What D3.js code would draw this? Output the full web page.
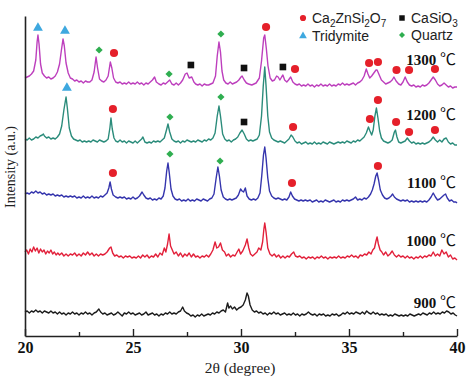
<!DOCTYPE html>
<html>
<head>
<meta charset="utf-8">
<script src="https://cdn.jsdelivr.net/npm/d3@7"></script>
<style>
  body { margin: 0; background: #fff; }
  svg { display: block; }
</style>
</head>
<body>
<svg id="xrd" width="474" height="380"></svg>
<script>
// series: [2theta, intensity (stacked, a.u.)]
var s900 = [[20.0,24],[20.1,25],[20.2,23],[20.3,25],[20.4,24],[20.5,26],[20.6,24],[20.7,25],[20.8,23],[20.9,25],[21.0,24],[21.1,23],[21.2,25],[21.3,23],[21.4,24],[21.5,22],[21.6,24],[21.7,22],[21.8,23],[21.9,21],[22.0,23],[22.1,22],[22.2,24],[22.3,22],[22.4,23],[22.5,21],[22.6,23],[22.7,22],[22.8,24],[22.9,22],[23.0,23],[23.1,21],[23.2,23],[23.3,24],[23.42,27],[23.5,24],[23.6,22],[23.7,23],[23.8,21],[23.9,22],[24.0,23],[24.1,21],[24.2,22],[24.3,24],[24.4,22],[24.5,20],[24.6,23],[24.7,22],[24.8,24],[24.9,22],[25.0,23],[25.1,21],[25.2,22],[25.3,23],[25.4,21],[25.5,22],[25.6,24],[25.7,21],[25.8,22],[25.9,23],[26.0,21],[26.1,22],[26.2,20],[26.3,22],[26.4,21],[26.5,23],[26.6,22],[26.7,24],[26.8,22],[26.9,23],[27.0,22],[27.1,24],[27.2,25],[27.3,29],[27.38,25],[27.48,23],[27.58,22],[27.68,20],[27.78,21],[27.88,19],[27.98,21],[28.08,20],[28.18,22],[28.28,20],[28.38,21],[28.48,22],[28.58,21],[28.68,23],[28.78,22],[28.88,24],[28.98,23],[29.08,25],[29.18,26],[29.28,24],[29.38,33],[29.44,28],[29.52,30],[29.6,27],[29.7,29],[29.8,26],[29.9,28],[30.0,29],[30.1,31],[30.2,36],[30.28,43],[30.34,40],[30.42,31],[30.52,26],[30.62,24],[30.72,25],[30.82,23],[30.92,24],[31.02,22],[31.12,23],[31.22,21],[31.32,23],[31.42,22],[31.52,24],[31.62,22],[31.72,23],[31.82,21],[31.92,22],[32.02,23],[32.12,21],[32.22,22],[32.32,21],[32.42,23],[32.52,21],[32.62,22],[32.72,20],[32.82,22],[32.92,21],[33.02,22],[33.12,24],[33.22,22],[33.32,21],[33.42,22],[33.52,20],[33.62,22],[33.72,21],[33.82,22],[33.92,20],[34.02,21],[34.12,20],[34.22,22],[34.32,21],[34.42,22],[34.52,20],[34.62,21],[34.72,23],[34.82,22],[34.92,24],[35.02,22],[35.12,23],[35.22,22],[35.32,24],[35.42,23],[35.52,22],[35.62,24],[35.72,22],[35.82,25],[35.92,23],[36.02,22],[36.12,24],[36.22,22],[36.32,23],[36.42,21],[36.52,22],[36.62,21],[36.72,22],[36.82,20],[36.92,21],[37.02,20],[37.12,22],[37.22,21],[37.32,20],[37.42,21],[37.52,20],[37.62,21],[37.72,20],[37.82,22],[37.92,21],[38.02,20],[38.12,21],[38.22,22],[38.32,21],[38.42,23],[38.52,22],[38.62,21],[38.72,23],[38.82,22],[38.92,24],[39.02,22],[39.12,23],[39.22,22],[39.32,24],[39.42,23],[39.52,25],[39.62,24],[39.72,22],[39.82,23],[39.92,21],[40.0,20]];

var s1000 = [[20.0,84],[20.08,86],[20.16,82],[20.24,87],[20.32,84],[20.4,89],[20.48,85],[20.56,88],[20.64,83],[20.72,87],[20.8,84],[20.88,86],[20.96,82],[21.04,85],[21.12,83],[21.2,86],[21.28,82],[21.36,84],[21.44,81],[21.52,83],[21.6,81],[21.7,83],[21.8,80],[21.9,82],[22.0,80],[22.1,82],[22.2,81],[22.3,83],[22.4,80],[22.5,82],[22.6,80],[22.7,83],[22.8,81],[22.9,84],[23.0,81],[23.1,83],[23.2,80],[23.3,82],[23.4,80],[23.5,82],[23.6,81],[23.7,82],[23.8,84],[23.92,88],[23.98,89],[24.06,83],[24.15,80],[24.25,81],[24.35,79],[24.45,80],[24.55,78],[24.65,80],[24.75,79],[24.85,80],[24.95,78],[25.05,79],[25.15,78],[25.25,80],[25.35,78],[25.45,81],[25.55,79],[25.65,81],[25.75,78],[25.85,80],[25.95,79],[26.05,82],[26.15,79],[26.25,83],[26.35,81],[26.45,88],[26.52,84],[26.6,92],[26.67,102],[26.74,90],[26.82,86],[26.9,82],[27.0,84],[27.1,80],[27.2,83],[27.3,79],[27.4,82],[27.5,80],[27.6,83],[27.7,79],[27.8,82],[27.9,79],[28.0,80],[28.1,78],[28.2,80],[28.3,79],[28.4,81],[28.5,79],[28.6,82],[28.7,86],[28.8,94],[28.88,88],[28.96,89],[29.05,93],[29.14,86],[29.24,84],[29.32,80],[29.42,82],[29.52,79],[29.62,81],[29.72,80],[29.82,84],[29.9,87],[29.98,82],[30.08,85],[30.2,91],[30.28,97],[30.36,88],[30.44,82],[30.54,80],[30.64,82],[30.74,84],[30.82,88],[30.92,86],[31.0,94],[31.06,107],[31.1,113],[31.16,104],[31.24,88],[31.34,82],[31.44,80],[31.54,82],[31.64,79],[31.74,81],[31.84,78],[31.94,80],[32.04,78],[32.14,80],[32.24,79],[32.34,82],[32.44,84],[32.52,80],[32.62,79],[32.72,80],[32.82,78],[32.92,79],[33.02,77],[33.12,79],[33.22,78],[33.32,79],[33.42,77],[33.52,79],[33.62,78],[33.72,80],[33.82,78],[33.92,79],[34.02,77],[34.12,79],[34.22,78],[34.32,79],[34.42,78],[34.52,80],[34.62,78],[34.72,79],[34.82,78],[34.92,80],[35.02,79],[35.12,81],[35.22,79],[35.32,80],[35.42,78],[35.52,81],[35.62,80],[35.72,82],[35.82,81],[35.92,84],[36.02,82],[36.1,86],[36.18,88],[36.25,95],[36.3,99],[36.36,92],[36.44,86],[36.52,84],[36.6,81],[36.7,84],[36.8,80],[36.9,82],[37.0,85],[37.1,81],[37.2,79],[37.3,81],[37.4,79],[37.5,80],[37.6,78],[37.7,80],[37.8,78],[37.9,79],[38.0,77],[38.1,79],[38.2,78],[38.3,80],[38.4,78],[38.5,80],[38.6,79],[38.7,81],[38.8,80],[38.9,84],[39.0,80],[39.1,82],[39.2,80],[39.3,86],[39.4,82],[39.5,84],[39.6,79],[39.7,81],[39.8,77],[39.9,78],[40.0,76]];

var s1100 = [[20.0,142],[20.1,143],[20.2,142],[20.3,144],[20.4,143],[20.5,145],[20.6,143],[20.7,144],[20.8,142],[20.9,143],[21.0,141],[21.1,142],[21.2,141],[21.3,142],[21.4,140],[21.5,141],[21.6,140],[21.7,141],[21.8,139],[21.9,140],[22.0,139],[22.1,140],[22.2,139],[22.3,140],[22.4,138],[22.5,139],[22.6,138],[22.7,140],[22.8,138],[22.9,139],[23.0,138],[23.1,140],[23.2,138],[23.3,139],[23.4,138],[23.5,140],[23.6,139],[23.7,141],[23.8,143],[23.88,148],[23.94,154],[24.0,147],[24.08,141],[24.2,139],[24.3,138],[24.4,139],[24.5,138],[24.6,139],[24.7,137],[24.8,138],[24.9,137],[25.0,139],[25.1,137],[25.2,138],[25.3,140],[25.42,144],[25.5,141],[25.6,138],[25.7,137],[25.8,138],[25.9,136],[26.0,137],[26.1,136],[26.2,138],[26.3,137],[26.4,140],[26.48,148],[26.56,165],[26.62,173],[26.68,163],[26.76,147],[26.85,140],[26.95,137],[27.05,136],[27.15,137],[27.25,135],[27.35,136],[27.45,135],[27.55,137],[27.65,135],[27.75,136],[27.85,135],[27.95,137],[28.05,136],[28.15,135],[28.25,137],[28.35,136],[28.45,135],[28.55,137],[28.65,138],[28.75,142],[28.85,158],[28.93,169],[29.0,160],[29.08,146],[29.18,139],[29.28,137],[29.38,136],[29.48,137],[29.58,136],[29.68,137],[29.78,138],[29.88,141],[29.98,147],[30.05,145],[30.12,144],[30.2,148],[30.28,140],[30.38,137],[30.48,136],[30.58,137],[30.68,136],[30.78,138],[30.88,143],[30.96,160],[31.04,181],[31.1,189],[31.16,178],[31.24,158],[31.32,145],[31.42,140],[31.52,138],[31.62,137],[31.72,138],[31.82,137],[31.92,136],[32.02,137],[32.12,136],[32.22,139],[32.3,144],[32.38,140],[32.48,137],[32.58,136],[32.68,135],[32.78,136],[32.88,135],[32.98,136],[33.08,135],[33.2,136],[33.3,134],[33.4,135],[33.5,136],[33.6,134],[33.7,135],[33.8,134],[33.9,136],[34.0,135],[34.1,134],[34.2,135],[34.3,136],[34.4,134],[34.5,135],[34.6,134],[34.7,136],[34.8,135],[34.9,136],[35.0,135],[35.1,136],[35.2,137],[35.3,139],[35.4,136],[35.5,137],[35.6,136],[35.7,138],[35.8,137],[35.9,139],[36.0,142],[36.08,146],[36.16,152],[36.24,160],[36.3,163],[36.37,156],[36.45,146],[36.55,141],[36.65,138],[36.75,137],[36.85,138],[36.95,140],[37.02,142],[37.1,139],[37.2,137],[37.3,136],[37.4,135],[37.5,136],[37.6,135],[37.7,136],[37.8,134],[37.9,135],[38.0,134],[38.1,135],[38.2,134],[38.3,135],[38.4,134],[38.5,135],[38.6,134],[38.7,136],[38.8,139],[38.9,143],[39.0,139],[39.1,136],[39.2,137],[39.3,139],[39.4,141],[39.47,142],[39.55,138],[39.65,135],[39.75,136],[39.85,134],[39.95,134],[40.0,133]];

var s1200 = [[20.0,197],[20.1,196],[20.2,198],[20.3,196],[20.4,197],[20.5,199],[20.6,198],[20.7,200],[20.8,201],[20.85,202],[20.9,200],[21.0,198],[21.1,199],[21.2,197],[21.3,198],[21.4,197],[21.5,199],[21.6,202],[21.7,210],[21.8,226],[21.9,239],[21.96,228],[22.05,208],[22.15,200],[22.25,197],[22.35,196],[22.45,195],[22.55,196],[22.65,194],[22.75,195],[22.85,194],[22.95,195],[23.05,194],[23.15,196],[23.25,195],[23.35,194],[23.45,196],[23.55,195],[23.65,194],[23.75,195],[23.85,197],[23.93,208],[23.98,218],[24.04,207],[24.12,198],[24.2,195],[24.3,194],[24.4,196],[24.5,194],[24.6,195],[24.7,193],[24.8,195],[24.9,194],[25.0,193],[25.1,195],[25.2,193],[25.3,195],[25.4,197],[25.46,199],[25.55,194],[25.65,193],[25.75,194],[25.85,193],[25.95,195],[26.05,194],[26.15,195],[26.25,194],[26.35,196],[26.45,198],[26.55,206],[26.62,212],[26.7,204],[26.8,197],[26.9,195],[27.0,194],[27.1,195],[27.2,193],[27.3,195],[27.4,194],[27.5,196],[27.6,195],[27.7,194],[27.8,195],[27.9,194],[28.0,196],[28.1,195],[28.2,194],[28.3,196],[28.4,195],[28.5,197],[28.6,196],[28.7,198],[28.8,203],[28.9,220],[28.98,230],[29.05,220],[29.15,202],[29.25,197],[29.35,195],[29.45,196],[29.55,194],[29.65,196],[29.75,197],[29.85,199],[29.95,203],[30.05,206],[30.15,202],[30.25,197],[30.35,195],[30.45,196],[30.55,195],[30.65,196],[30.75,197],[30.85,201],[30.95,220],[31.03,250],[31.1,269],[31.16,250],[31.24,220],[31.32,204],[31.42,198],[31.52,196],[31.62,195],[31.72,194],[31.82,195],[31.92,194],[32.02,193],[32.12,195],[32.22,197],[32.32,201],[32.4,199],[32.5,195],[32.6,193],[32.7,194],[32.8,192],[32.9,193],[33.0,194],[33.1,192],[33.2,193],[33.3,192],[33.4,194],[33.5,192],[33.6,193],[33.7,192],[33.8,194],[33.9,193],[34.0,192],[34.1,194],[34.2,193],[34.3,192],[34.4,193],[34.5,194],[34.6,193],[34.7,194],[34.8,193],[34.9,195],[35.0,194],[35.1,193],[35.2,195],[35.3,194],[35.4,196],[35.5,195],[35.6,197],[35.7,199],[35.8,203],[35.9,209],[35.97,205],[36.05,201],[36.12,206],[36.2,220],[36.27,228],[36.34,218],[36.42,205],[36.5,198],[36.6,195],[36.7,194],[36.8,193],[36.9,194],[37.0,196],[37.1,204],[37.15,206],[37.22,199],[37.3,194],[37.4,193],[37.5,194],[37.6,195],[37.7,198],[37.8,195],[37.9,193],[38.0,194],[38.1,192],[38.2,193],[38.3,192],[38.4,193],[38.5,192],[38.6,193],[38.7,194],[38.8,196],[38.9,199],[39.0,196],[39.1,194],[39.2,196],[39.3,194],[39.4,197],[39.5,198],[39.6,194],[39.7,192],[39.8,193],[39.9,191],[40.0,191]];

var s1300 = [[20.0,258],[20.1,259],[20.2,260],[20.3,262],[20.4,265],[20.5,276],[20.56,294],[20.6,301],[20.65,292],[20.72,272],[20.8,263],[20.9,260],[21.0,258],[21.1,259],[21.2,257],[21.3,258],[21.4,260],[21.5,264],[21.6,272],[21.68,285],[21.76,297],[21.82,290],[21.9,273],[22.0,263],[22.1,258],[22.2,257],[22.3,255],[22.4,256],[22.5,254],[22.6,255],[22.7,253],[22.8,255],[22.9,254],[23.0,254],[23.1,256],[23.2,264],[23.29,279],[23.36,268],[23.45,257],[23.55,255],[23.65,254],[23.75,256],[23.85,260],[23.95,274],[24.02,268],[24.1,258],[24.2,254],[24.3,253],[24.4,254],[24.5,252],[24.6,253],[24.7,252],[24.8,254],[24.9,252],[25.0,253],[25.1,252],[25.2,254],[25.3,252],[25.4,253],[25.5,251],[25.6,253],[25.7,252],[25.8,254],[25.9,256],[26.0,259],[26.08,254],[26.2,252],[26.3,251],[26.4,253],[26.5,252],[26.6,254],[26.7,256],[26.8,252],[26.9,251],[27.0,253],[27.1,251],[27.2,253],[27.3,256],[27.42,262],[27.5,263],[27.6,258],[27.72,259],[27.82,254],[27.9,252],[28.0,251],[28.1,252],[28.2,250],[28.3,252],[28.4,251],[28.5,251],[28.6,252],[28.7,253],[28.82,260],[28.9,280],[28.98,294],[29.05,284],[29.12,265],[29.2,256],[29.3,253],[29.4,252],[29.5,254],[29.6,252],[29.7,253],[29.8,254],[29.9,256],[30.0,259],[30.05,260],[30.15,256],[30.25,253],[30.35,252],[30.5,251],[30.6,252],[30.7,253],[30.85,258],[30.95,275],[31.05,298],[31.1,301],[31.17,288],[31.25,270],[31.35,258],[31.45,255],[31.55,256],[31.65,260],[31.72,259],[31.8,256],[31.88,259],[31.94,261],[32.02,256],[32.12,254],[32.2,256],[32.3,259],[32.4,254],[32.5,252],[32.6,251],[32.7,252],[32.8,250],[32.9,251],[33.0,250],[33.1,252],[33.2,250],[33.3,251],[33.4,249],[33.5,251],[33.6,250],[33.7,252],[33.8,250],[33.9,251],[34.0,250],[34.1,252],[34.2,250],[34.3,251],[34.4,250],[34.5,252],[34.6,251],[34.7,253],[34.8,251],[34.9,252],[35.0,251],[35.1,252],[35.2,253],[35.3,251],[35.4,253],[35.5,254],[35.6,256],[35.7,260],[35.8,267],[35.88,262],[35.96,258],[36.05,260],[36.15,263],[36.25,266],[36.3,266],[36.4,261],[36.5,256],[36.6,254],[36.7,252],[36.8,253],[36.9,254],[37.0,256],[37.08,259],[37.18,255],[37.3,252],[37.4,251],[37.5,254],[37.6,259],[37.7,254],[37.8,251],[37.9,250],[38.0,251],[38.1,249],[38.2,250],[38.3,249],[38.4,251],[38.5,250],[38.6,251],[38.7,253],[38.8,256],[38.9,259],[39.0,256],[39.1,252],[39.2,250],[39.3,251],[39.4,253],[39.5,251],[39.6,249],[39.7,250],[39.8,248],[39.9,249],[40.0,249]];

var seriesData = [s900, s1000, s1100, s1200, s1300];
var seriesTemps = ["900", "1000", "1100", "1200", "1300"];
var seriesColors = ["#1c1c1c", "#e2203a", "#3535ad", "#2b8c7b", "#bd3fbd"];
var labelLevels = [28, 90, 148, 216, 271];   // intensity at which the temperature text sits

// phase markers: [2theta, intensity, phase]
// c = Ca2ZnSi2O7, s = CaSiO3, t = Tridymite, q = Quartz
var phaseMarks = [
  [20.6,308,"t"],[21.85,305,"t"],[23.43,286,"q"],[24.12,283,"c"],[26.67,262,"q"],[27.68,271,"s"],
  [29.07,302,"q"],[30.14,268,"s"],[31.16,309,"c"],[31.94,269,"s"],[32.5,267,"c"],[35.93,273,"c"],
  [36.34,274,"c"],[37.2,266,"c"],[37.78,266,"c"],[38.98,267,"c"],
  [21.94,248,"t"],[24.07,227,"c"],[26.71,219,"q"],[29.07,239,"q"],[30.14,214,"s"],[32.41,209,"c"],
  [35.97,217,"c"],[36.34,236,"c"],[37.18,214,"c"],[37.78,204,"c"],[38.98,206,"c"],
  [24.07,163,"c"],[26.71,182,"q"],[29.03,175,"q"],[32.36,153,"c"],[36.34,170,"c"]
];

var xTicks = [20, 25, 30, 35, 40];
var xMinor = [22.5, 27.5, 32.5, 37.5];

var svg = d3.select("#xrd"),
    padL = 25, padR = 457, padT = 16, padB = 336;

var x = d3.scaleLinear().domain([20, 40]).range([padL, padR]);
var y = d3.scaleLinear().domain([0, 320]).range([padB, padT]);

var line = d3.line()
    .x(function(d) { return x(d[0]); })
    .y(function(d) { return y(d[1]); });

var g = svg.append("g");

seriesData.forEach(function(s, i) {
  g.append("path")
    .datum(s)
    .attr("d", line)
    .attr("fill", "none")
    .attr("stroke", seriesColors[i])
    .attr("stroke-width", 1.4)
    .attr("stroke-linejoin", "round");

  var t = g.append("text")
    .attr("x", x(40) - 1)
    .attr("y", y(labelLevels[i]))
    .attr("text-anchor", "end")
    .attr("font-family", "'Liberation Serif', 'Times New Roman', serif")
    .attr("font-weight", "bold")
    .attr("font-size", "15px")
    .attr("fill", "#111");
  t.append("tspan").text(seriesTemps[i] + " ");
  t.append("tspan")
    .attr("font-family", "'Noto Sans CJK SC', 'DejaVu Sans', sans-serif")
    .attr("font-weight", "normal")
    .attr("font-size", "16px")
    .text("\u2103");
});

// axes
var xAxis = svg.append("g")
    .attr("transform", "translate(0," + padB + ")")
    .call(d3.axisBottom(x).tickValues(xTicks).tickSizeInner(-7).tickSizeOuter(0).tickPadding(6).tickFormat(d3.format("d")));
xAxis.select(".domain").attr("stroke", "#222").attr("stroke-width", 1.6);
xAxis.selectAll(".tick line").attr("stroke", "#222").attr("stroke-width", 1.4);
xAxis.selectAll(".tick text")
    .attr("font-family", "'Liberation Serif', 'Times New Roman', serif")
    .attr("font-weight", "bold")
    .attr("font-size", "16px")
    .attr("fill", "#111");

var xMinorAxis = svg.append("g")
    .attr("transform", "translate(0," + padB + ")")
    .call(d3.axisBottom(x).tickValues(xMinor).tickSizeInner(-4).tickSizeOuter(0).tickFormat(""));
xMinorAxis.select(".domain").remove();
xMinorAxis.selectAll(".tick line").attr("stroke", "#222").attr("stroke-width", 1.4);

var yAxis = svg.append("g")
    .attr("transform", "translate(" + padL + ",0)")
    .call(d3.axisLeft(y).tickValues([]).tickSizeOuter(0));
yAxis.select(".domain").attr("stroke", "#222").attr("stroke-width", 1.6);

svg.append("text")
    .attr("x", 240)
    .attr("y", 373)
    .attr("text-anchor", "middle")
    .attr("font-family", "'Liberation Serif', 'Times New Roman', serif")
    .attr("font-size", "15.5px")
    .attr("fill", "#222")
    .text("2\u03b8 (degree)");

svg.append("text")
    .attr("transform", "translate(15,167) rotate(-90)")
    .attr("text-anchor", "middle")
    .attr("font-family", "'Liberation Serif', 'Times New Roman', serif")
    .attr("font-size", "14px")
    .attr("fill", "#222")
    .text("Intensity (a.u.)");

// marker shapes
var markColor = { c: "#e5202a", s: "#111111", t: "#3ea8df", q: "#2fae50" };
function markPath(t, size) {
  var sym = { c: d3.symbolCircle, s: d3.symbolSquare, t: d3.symbolTriangle, q: d3.symbolSquare }[t];
  return d3.symbol().type(sym).size(size)();
}
function markRot(t) { return t === "q" ? " rotate(45)" : ""; }
var markSize = { c: 52, s: 44, t: 42, q: 26 };

g.selectAll(".mark")
  .data(phaseMarks)
  .enter().append("path")
    .attr("class", "mark")
    .attr("transform", function(d) { return "translate(" + x(d[0]) + "," + y(d[1]) + ")" + markRot(d[2]); })
    .attr("d", function(d) { return markPath(d[2], markSize[d[2]]); })
    .attr("fill", function(d) { return markColor[d[2]]; });

// legend
var legend = [
  { t: "c", x: 303, y: 18, parts: [["Ca",0],["2",1],["ZnSi",0],["2",1],["O",0],["7",1]] },
  { t: "s", x: 402, y: 18, parts: [["CaSiO",0],["3",1]] },
  { t: "t", x: 303, y: 36, parts: [["Tridymite",0]] },
  { t: "q", x: 402, y: 35, parts: [["Quartz",0]] }
];
var legSize = { c: 30, s: 30, t: 26, q: 18 };
legend.forEach(function(l) {
  svg.append("path")
    .attr("transform", "translate(" + l.x + "," + l.y + ")" + markRot(l.t))
    .attr("d", markPath(l.t, legSize[l.t]))
    .attr("fill", markColor[l.t]);
  var txt = svg.append("text")
    .attr("x", l.x + 9)
    .attr("y", l.y + 5)
    .attr("font-family", "'Liberation Sans', Arial, sans-serif")
    .attr("font-size", "14px")
    .attr("fill", "#222");
  l.parts.forEach(function(p, k) {
    var prev = k > 0 ? l.parts[k - 1][1] : 0;
    txt.append("tspan")
      .attr("dy", p[1] === prev ? 0 : (p[1] ? 4 : -4))
      .attr("font-size", p[1] ? "10px" : "14px")
      .text(p[0]);
  });
});
</script>
</body>
</html>
